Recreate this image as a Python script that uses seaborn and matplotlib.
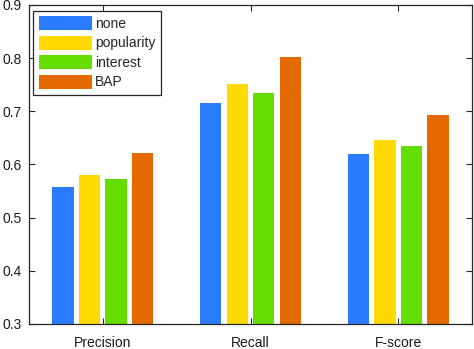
import matplotlib
matplotlib.use("Agg")
import matplotlib.pyplot as plt
import seaborn as sns
import pandas as pd

categories = ["Precision", "Recall", "F-score"]
methods = ["none", "popularity", "interest", "BAP"]
none_vals = [0.558, 0.715, 0.619]
popularity_vals = [0.580, 0.752, 0.646]
interest_vals = [0.573, 0.734, 0.635]
bap_vals = [0.622, 0.802, 0.692]
colors = ["#2A7BFF", "#FFD900", "#66DD00", "#E46A00"]
yticks = [0.3, 0.4, 0.5, 0.6, 0.7, 0.8, 0.9]

rows = []
for m, vals in zip(methods, [none_vals, popularity_vals, interest_vals, bap_vals]):
    for c, v in zip(categories, vals):
        rows.append({"category": c, "method": m, "value": v})
df = pd.DataFrame(rows)

sns.set_style("white")
plt.rcParams["font.family"] = ["Liberation Sans", "DejaVu Sans"]

fig = plt.figure(figsize=(4.74, 3.49), dpi=100)
ax = fig.add_axes([0.061, 0.072, 0.935, 0.914])
sns.barplot(data=df, x="category", y="value", hue="method", order=categories,
            hue_order=methods, palette=colors, width=0.72, gap=0.2,
            linewidth=0, saturation=1, ax=ax, legend=True)

ax.set_ylim(0.3, 0.9)
ax.set_xlim(-0.5, 2.5)
ax.set_yticks(yticks)
ax.set_yticklabels([f"{t:.1f}" for t in yticks])
ax.set_xlabel("")
ax.set_ylabel("")
ax.tick_params(direction="in", length=4, width=0.8, colors="#262626",
               labelsize=10, top=True, right=True, left=True, bottom=True,
               labelcolor="#1a1a1a")
ax.tick_params(axis="x", pad=9)
ax.tick_params(axis="y", pad=5)
for s in ax.spines.values():
    s.set_visible(True)
    s.set_color("#262626")
    s.set_linewidth(0.9)

leg = ax.legend(loc="upper left", bbox_to_anchor=(0.004, 0.99), fontsize=10,
                handlelength=3.8, handleheight=1.15, handletextpad=0.25,
                labelspacing=0.35, borderpad=0.4, fancybox=False,
                framealpha=1, edgecolor="#262626", borderaxespad=0.2)
leg.get_frame().set_linewidth(0.9)

fig.savefig("out.png", dpi=100)
